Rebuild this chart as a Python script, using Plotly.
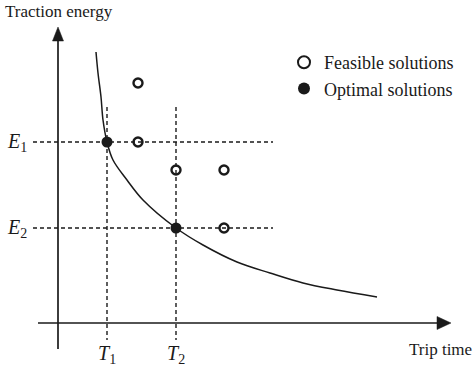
import plotly.graph_objects as go

# ---- schematic values (units: offset from the origin of the drawn axes) ----
T_labels = ["T1", "T2"]
T_values = [49, 118]
E_labels = ["E1", "E2"]
E_values = [181, 95]

curve_t = [38, 40, 43, 45, 49, 55, 69, 85, 118, 145, 179, 212, 245, 279, 319]
curve_e = [271, 250, 226, 203, 181, 163, 143, 123, 95, 78, 61, 50, 40, 33, 26]

feasible_t = [80, 80, 118, 166, 166]
feasible_e = [240, 181, 153, 153, 95]

optimal_t = [49, 118]
optimal_e = [181, 95]

INK = "#1a1a1a"
FONT = "Liberation Serif"

fig = go.Figure()

# dashed guide lines
for e in E_values:
    fig.add_trace(go.Scatter(x=[-25, 215], y=[e, e], mode="lines",
                             line=dict(color=INK, width=1.4, dash="4px,3px"),
                             showlegend=False, hoverinfo="skip"))
for t in T_values:
    fig.add_trace(go.Scatter(x=[t, t], y=[216, -17], mode="lines",
                             line=dict(color=INK, width=1.4, dash="4px,3px"),
                             showlegend=False, hoverinfo="skip"))

# curve
fig.add_trace(go.Scatter(x=curve_t, y=curve_e, mode="lines",
                         line=dict(color=INK, width=1.5, shape="spline", smoothing=1.0),
                         showlegend=False, hoverinfo="skip"))

# points
fig.add_trace(go.Scatter(x=feasible_t, y=feasible_e, mode="markers",
                         name="Feasible solutions",
                         marker=dict(symbol="circle-open", size=9, color=INK,
                                     line=dict(width=2.4, color=INK))))
fig.add_trace(go.Scatter(x=optimal_t, y=optimal_e, mode="markers",
                         name="Optimal solutions",
                         marker=dict(symbol="circle", size=11, color=INK)))

# axes with arrows
fig.add_shape(type="line", x0=0, y0=-26, x1=0, y1=285, line=dict(color=INK, width=1.7))
fig.add_shape(type="line", x0=-20, y0=0, x1=381, y1=0, line=dict(color=INK, width=1.7))
fig.add_shape(type="path", path="M 0 296 L -5.5 282 L 5.5 282 Z",
              fillcolor=INK, line=dict(color=INK, width=0.5))
fig.add_shape(type="path", path="M 393 0 L 379 6.5 L 379 -6.5 Z",
              fillcolor=INK, line=dict(color=INK, width=0.5))

# labels
for lab, e in zip(E_labels, E_values):
    fig.add_annotation(x=-29, y=e, text=f"<i>{lab[0]}</i><sub>{lab[1:]}</sub>",
                       showarrow=False, xanchor="right", yanchor="middle",
                       font=dict(family=FONT, size=20, color=INK))
for lab, t in zip(T_labels, T_values):
    fig.add_annotation(x=t, y=-31, text=f"<i>{lab[0]}</i><sub>{lab[1:]}</sub>",
                       showarrow=False, xanchor="center", yanchor="middle",
                       font=dict(family=FONT, size=20, color=INK))

fig.add_annotation(xref="paper", yref="paper", x=3 / 474, y=1.0, text="Traction energy",
                   showarrow=False, xanchor="left", yanchor="top",
                   font=dict(family=FONT, size=17, color=INK))
fig.add_annotation(xref="paper", x=1.0, y=-26, text="Trip time",
                   showarrow=False, xanchor="right", yanchor="middle",
                   font=dict(family=FONT, size=17, color=INK))

fig.update_layout(
    width=474, height=366, autosize=False,
    margin=dict(l=0, r=0, t=0, b=0),
    paper_bgcolor="white", plot_bgcolor="white",
    xaxis=dict(range=[-58, 416], visible=False, fixedrange=True),
    yaxis=dict(range=[-43, 323], visible=False, fixedrange=True),
    legend=dict(x=284 / 474, y=1 - 44 / 366, xanchor="left", yanchor="top",
                bgcolor="rgba(0,0,0,0)", font=dict(family=FONT, size=18, color=INK),
                traceorder="normal", itemsizing="constant"),
    showlegend=True,
)

fig.write_html("out.html", config={"displayModeBar": False},
               post_script="document.body.style.margin='0';document.body.style.padding='0';")
